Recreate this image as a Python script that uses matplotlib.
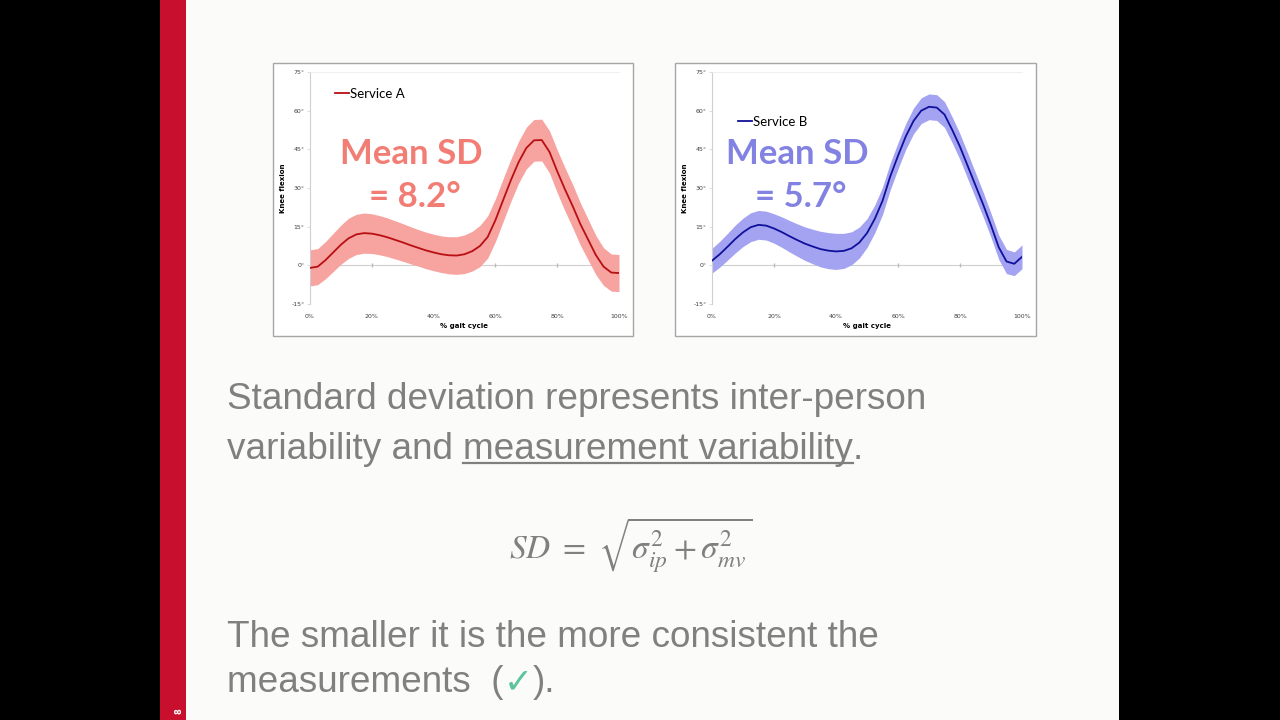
import matplotlib
matplotlib.use("Agg")
import matplotlib.pyplot as plt
from matplotlib.patches import Rectangle
from matplotlib.lines import Line2D

# gait cycle samples (%)
gait_pct = [0, 2.5, 5, 7.5, 10, 12.5, 15, 17.5, 20, 22.5, 25, 27.5, 30, 32.5, 35, 37.5,
            40, 42.5, 45, 47.5, 50, 52.5, 55, 57.5, 60, 62.5, 65, 67.5, 70, 72.5, 75,
            77.5, 80, 82.5, 85, 87.5, 90, 92.5, 95, 97.5, 100]

mean_a = [-1.0, -0.5, 2.0, 5.0, 8.0, 10.5, 12.0, 12.5, 12.3, 11.7, 10.9, 9.9, 8.9, 7.8,
          6.8, 5.8, 5.0, 4.3, 3.9, 3.8, 4.3, 5.5, 7.5, 11.0, 17.5, 25.3, 33.0, 40.0, 45.5,
          48.5, 48.6, 44.0, 36.5, 29.5, 23.0, 16.0, 10.0, 4.0, -0.5, -2.8, -3.0]
sd_a = [7.0, 7.0, 7.2, 7.4, 7.6, 7.8, 7.8, 7.8, 7.7, 7.6, 7.5, 7.4, 7.3, 7.2, 7.1, 7.1,
        7.1, 7.1, 7.2, 7.3, 7.5, 7.7, 8.0, 8.2, 8.3, 8.3, 8.2, 8.1, 8.1, 8.1, 8.1, 8.2,
        8.3, 8.4, 8.4, 8.2, 7.9, 7.6, 7.3, 7.2, 7.2]

mean_b = [1.8, 4.3, 7.2, 10.2, 12.8, 14.8, 15.7, 15.4, 14.3, 12.9, 11.3, 9.8, 8.4, 7.3,
          6.3, 5.7, 5.4, 5.6, 6.6, 8.8, 12.5, 18.0, 25.0, 34.5, 42.5, 50.0, 56.0, 60.0,
          61.5, 61.2, 58.5, 52.5, 46.0, 38.5, 31.0, 23.5, 15.5, 7.0, 1.5, 0.6, 3.3]
sd_b = [4.8, 5.0, 5.2, 5.4, 5.5, 5.6, 5.6, 5.6, 5.7, 5.9, 6.1, 6.3, 6.5, 6.7, 6.9, 7.0,
        7.0, 6.8, 6.4, 6.0, 5.6, 5.4, 5.3, 5.2, 5.1, 5.0, 5.0, 5.0, 5.0, 5.0, 5.0, 5.0,
        5.0, 5.0, 4.9, 4.8, 4.7, 4.7, 4.7, 4.6, 4.6]

y_ticks = [-15, 0, 15, 30, 45, 60, 75]
x_ticks = [0, 20, 40, 60, 80, 100]

W, H = 1280, 720


def fx(x):
    return x / W


def fy(y):
    return 1 - y / H


fig = plt.figure(figsize=(12.8, 7.2), dpi=100, facecolor="black")

# slide background and red side bar
fig.patches.append(Rectangle((fx(186), 0), fx(1119 - 186), 1, transform=fig.transFigure,
                             facecolor="#fbfbfa", edgecolor="none", zorder=0))
fig.patches.append(Rectangle((fx(160), 0), fx(26), 1, transform=fig.transFigure,
                             facecolor="#c8102e", edgecolor="none", zorder=0))
fig.text(fx(179), fy(711), "8", color="white", fontsize=6, rotation=90,
         ha="center", va="center", fontweight="bold")


def knee_chart(frame, box, mean, sd, label, line_col, band_col, txt_col, sd_txt,
               leg_pos, txt_x):
    # white chart frame
    fig.patches.append(Rectangle((fx(frame[0]), fy(frame[3])), fx(frame[2] - frame[0]),
                                 (frame[3] - frame[1]) / H, transform=fig.transFigure,
                                 facecolor="white", edgecolor="#a6a6a6", lw=1.0, zorder=1))
    ax = fig.add_axes([fx(box[0]), fy(box[3]), fx(box[2] - box[0]), (box[3] - box[1]) / H])
    ax.set_zorder(2)
    ax.set_facecolor("white")
    lower = [m - s for m, s in zip(mean, sd)]
    upper = [m + s for m, s in zip(mean, sd)]
    ax.fill_between(gait_pct, lower, upper, color=band_col, lw=0, zorder=2)
    ax.axhline(0, color="#cfcfcf", lw=0.8, zorder=1)
    ax.plot(x_ticks[1:-1], [0] * 4, ls="none", marker="|", ms=3, color="#bbbbbb", zorder=1)
    ax.plot(gait_pct, mean, color=line_col, lw=1.3, label=label, zorder=3,
            solid_joinstyle="round")
    ax.set_xlim(0, 100)
    ax.set_ylim(-15, 75)
    ax.set_yticks(y_ticks)
    ax.set_yticklabels([f"{t}°" for t in y_ticks], fontsize=4.5, color="#404040")
    ax.set_xticks(x_ticks)
    ax.set_xticklabels([f"{t}%" for t in x_ticks], fontsize=4.5, color="#404040")
    ax.tick_params(axis="x", length=0, pad=7)
    ax.tick_params(axis="y", length=2, width=0.5, color="#cfcfcf", pad=2)
    for s in ["right", "bottom"]:
        ax.spines[s].set_visible(False)
    ax.spines["left"].set_color("#cfcfcf")
    ax.spines["top"].set_color("#ececec")
    ax.spines["left"].set_linewidth(0.8)
    ax.spines["top"].set_linewidth(0.6)
    ax.set_ylabel("Knee flexion", fontsize=5, fontweight="bold", labelpad=4)
    ax.set_xlabel("% gait cycle", fontsize=5, fontweight="bold", labelpad=3)
    ax.legend(loc="center left", bbox_to_anchor=leg_pos, frameon=False,
              handlelength=1.1, handletextpad=0.05, borderpad=0, borderaxespad=0,
              prop={"family": "Lato", "size": 9.5})
    fig.text(fx(txt_x[0]), fy(154), "Mean SD", family="Lato", fontweight="bold",
             fontsize=25, color=txt_col, ha="center", va="center", zorder=5)
    fig.text(fx(txt_x[1]), fy(197), sd_txt, family="Lato", fontweight="bold",
             fontsize=25, color=txt_col, ha="center", va="center", zorder=5)
    return ax


knee_chart((273, 63, 633, 336), (310, 72, 619, 304), mean_a, sd_a, "Service A",
           "#b80f12", "#f7a3a0", "#f27d74", "= 8.2°", (0.08, 0.905), (411, 415))
knee_chart((675, 63, 1036, 336), (712, 72, 1022, 304), mean_b, sd_b, "Service B",
           "#10109a", "#a3a3f2", "#8282e2", "= 5.7°", (0.083, 0.785), (797, 801))

grey = "#808080"
body = dict(family="Liberation Sans", fontsize=26.6, color=grey, va="baseline")
fig.text(fx(227), fy(409), "Standard deviation represents inter-person", **body)

renderer = fig.canvas.get_renderer()


def chain(x0, y, parts):
    # place text pieces one after another, return the pixel extents
    x = x0
    spans = []
    for s, kw in parts:
        t = fig.text(fx(x), fy(y), s, **kw)
        bb = t.get_window_extent(renderer)
        spans.append((x, x + bb.width))
        x += bb.width
    return spans


spans = chain(227, 459, [("variability and ", body), ("measurement variability", body),
                         (".", body)])
ux0, ux1 = spans[1]
fig.add_artist(Line2D([fx(ux0), fx(ux1)], [fy(463), fy(463)], color=grey, lw=1.6,
                      transform=fig.transFigure))

plt.rcParams["mathtext.fontset"] = "stix"
fig.text(fx(631), fy(545), r"$SD\ =\ \sqrt{\sigma_{ip}^2+\sigma_{mv}^2}$", fontsize=24,
         color=grey, ha="center", va="center")

fig.text(fx(227), fy(647), "The smaller it is the more consistent the", **body)
chk = dict(body)
chk.update(family=["DejaVu Sans"], color="#5cc39a", fontsize=25)
chain(227, 692, [("measurements  (", body), ("\u2713", chk), (").", body)])

fig.savefig("out.png", dpi=100, facecolor=fig.get_facecolor())
